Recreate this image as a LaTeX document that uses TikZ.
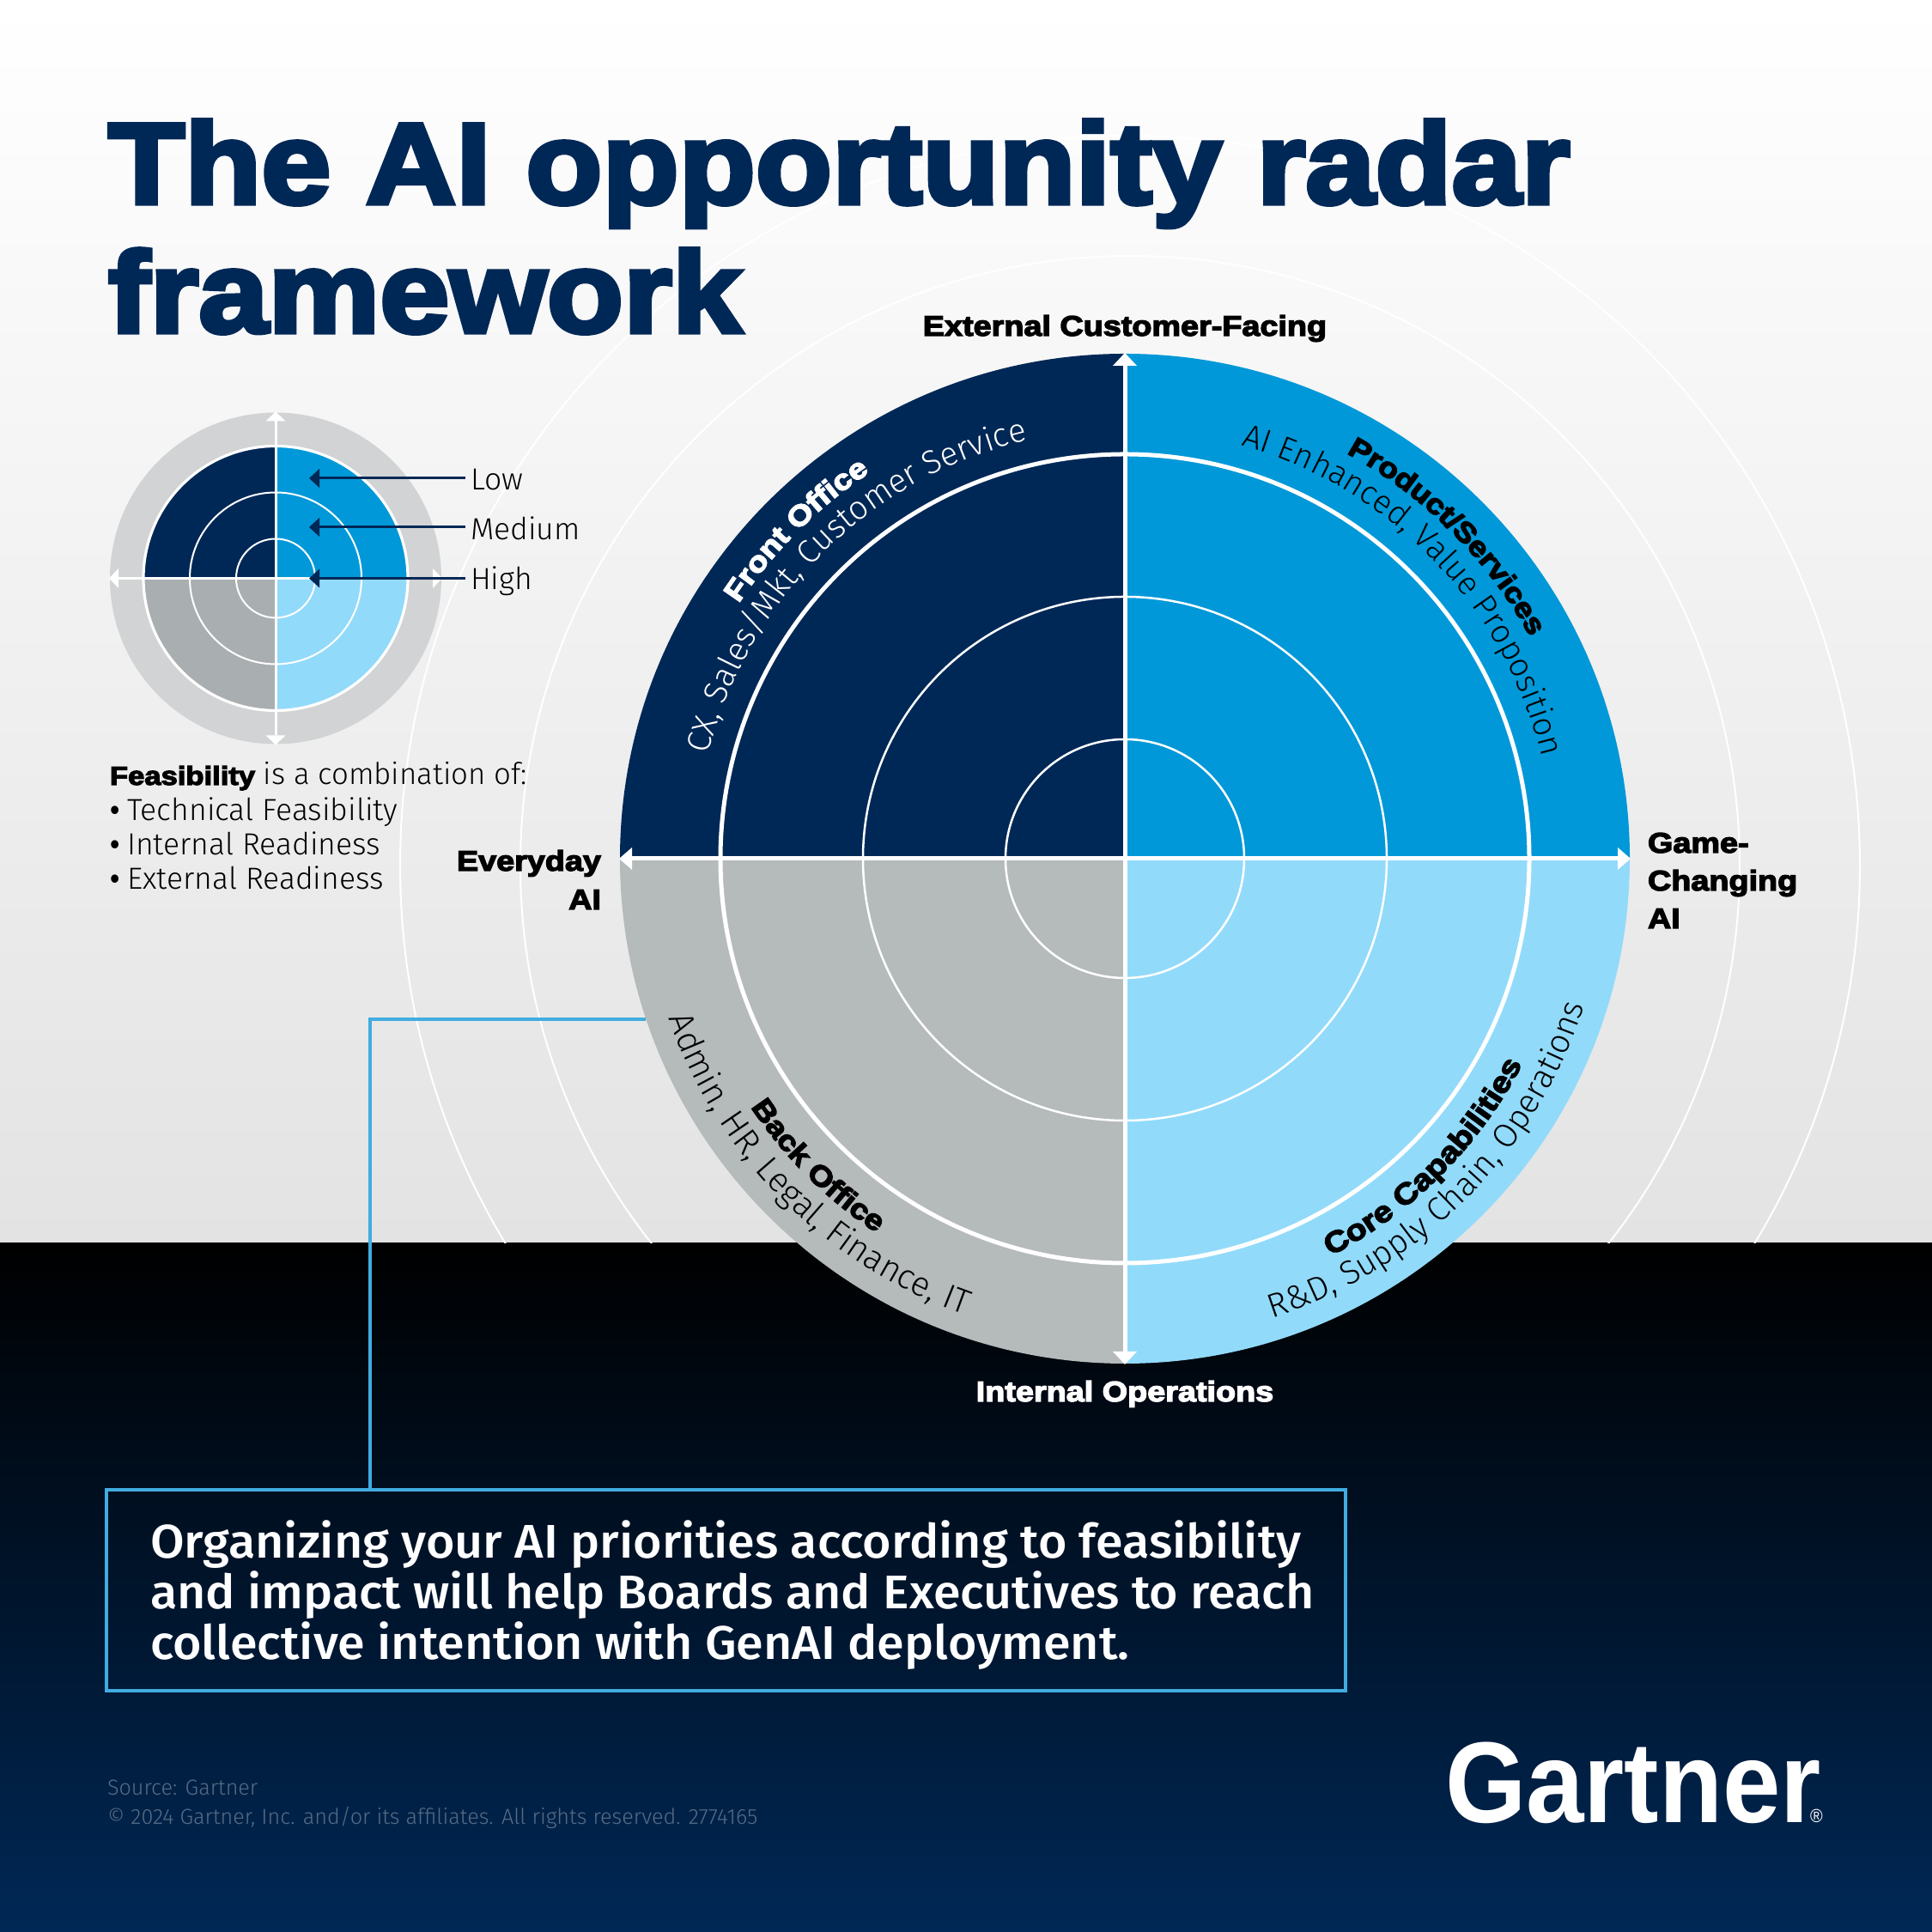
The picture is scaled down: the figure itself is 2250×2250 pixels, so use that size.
\documentclass[tikz,border=0pt]{standalone}
\usepackage{fontspec}
\usetikzlibrary{decorations.text,calc}
\setmainfont{Fira Sans}
\newfontfamily\lightf{Fira Sans Light}
\newfontfamily\titlef[FakeBold=4,FakeStretch=1.089,UprightFont={* Bold}]{Liberation Sans}
\newfontfamily\blackf[FakeBold=4,FakeStretch=1.145,UprightFont={* Bold}]{Liberation Sans}
\newfontfamily\medf[FakeStretch=1.044]{Fira Sans Medium}
\newfontfamily\logof[FakeStretch=0.905]{Liberation Sans}
\definecolor{navy}{HTML}{002856}
\definecolor{blueq}{HTML}{0098D8}
\definecolor{skyq}{HTML}{92DAFA}
\definecolor{grayq}{HTML}{B5BABB}
\definecolor{grayd}{HTML}{A9AEB0}
\definecolor{ringg}{HTML}{D1D3D4}
\definecolor{callb}{HTML}{41ACE0}
\definecolor{srcg}{HTML}{566B85}
\newcommand{\fsz}[1]{\fontsize{#1pt}{#1pt}\selectfont}
\newcommand{\curvetext}[6]{% radius, start, end, font, colour, text
  \path[decorate,decoration={text along path,text align=center,text color=#5,
    text={|#4|#6}}]
    (#2:#1pt) arc[start angle=#2,end angle=#3,radius=#1pt];}
\newcommand{\quadrants}[5]{% radius, TL, TR, BR, BL
  \fill[#2] (0,0) -- (180:#1pt) arc[start angle=180,end angle=90,radius=#1pt] -- cycle;
  \fill[#3] (0,0) -- (90:#1pt) arc[start angle=90,end angle=0,radius=#1pt] -- cycle;
  \fill[#4] (0,0) -- (0:#1pt) arc[start angle=0,end angle=-90,radius=#1pt] -- cycle;
  \fill[#5] (0,0) -- (-90:#1pt) arc[start angle=-90,end angle=-180,radius=#1pt] -- cycle;}
\tikzset{
  x=1pt,y=1pt,
  txt/.style={inner sep=0pt,outer sep=0pt,anchor=base west},
  txtr/.style={inner sep=0pt,outer sep=0pt,anchor=base east},
  txtc/.style={inner sep=0pt,outer sep=0pt,anchor=base},
  titletxt/.style={txt,text=navy,font=\titlef\fsz{134}},
  axisblack/.style={font=\blackf\fsz{33},text=black},
  axiswhite/.style={font=\blackf\fsz{33},text=white},
  legendtxt/.style={txt,font=\lightf\fsz{35.5},text=black},
  calltxt/.style={txt,font=\medf\fsz{55},text=white},
  srctxt/.style={txt,font=\lightf\fsz{25.2},text=srcg},
  ringthin/.style={draw=white,line width=2.5pt},
  ringthick/.style={draw=white,line width=5pt},
  minithin/.style={draw=white,line width=2pt},
  minithick/.style={draw=white,line width=3.2pt},
  legarrow/.style={draw=navy,line width=3pt},
  legtip/.style={fill=navy},
  faint/.style={draw=white,line width=2pt},
  callline/.style={draw=callb,line width=4pt},
}
\begin{document}
\begin{tikzpicture}
\useasboundingbox (0,0) rectangle (2250,2250);
% background
\shade[top color=white,middle color=white!96!black,bottom color=black!11] (0,802) rectangle (2250,2250);
\shade[top color=black!100!blue,middle color=navy!68!black,bottom color=navy] (0,0) rectangle (2250,802);
% faint rings
\begin{scope}
  \clip (0,802) rectangle (2250,2250);
  \draw[faint] (1316,1242) circle[radius=710pt];
  \draw[faint] (1316,1242) circle[radius=850pt];
\end{scope}
% title
\node[titletxt] (title1) at (126,2013) {The AI opportunity radar};
\node[titletxt] (title2) at (126,1863) {framework};
% main radar
\begin{scope}[shift={(1310,1250)}]
  \quadrants{588}{navy}{blueq}{skyq}{grayq}
  \draw[ringthin] (0,0) circle[radius=139pt];
  \draw[ringthin] (0,0) circle[radius=305pt];
  \draw[ringthick] (0,0) circle[radius=471pt];
  \draw[white,line width=5pt] (-575,0) -- (575,0);
  \draw[white,line width=5pt] (0,-575) -- (0,575);
  \fill[white] (0,589) -- (-14,574) -- (14,574) -- cycle;
  \fill[white] (0,-589) -- (-14,-574) -- (14,-574) -- cycle;
  \fill[white] (-589,0) -- (-574,13) -- (-574,-13) -- cycle;
  \fill[white] (589,0) -- (574,13) -- (574,-13) -- cycle;
  \curvetext{500}{169}{100}{\lightf\fsz{38.5}}{white}{CX, Sales/Mkt, Customer Service}
  \curvetext{539}{160}{110}{\blackf\fsz{33.5}}{white}{Front Office}
  \curvetext{500}{79}{9}{\lightf\fsz{38}}{black}{AI Enhanced, Value Proposition}
  \curvetext{538}{70}{20}{\blackf\fsz{32.8}}{black}{Product/Services}
  \curvetext{563}{190}{260}{\lightf\fsz{40}}{black}{Admin, HR, Legal, Finance, IT}
  \curvetext{523}{200}{250}{\blackf\fsz{33.1}}{black}{Back Office}
  \curvetext{562}{-80}{-10}{\lightf\fsz{39}}{black}{R{\&}D, Supply Chain, Operations}
  \curvetext{521}{-70}{-20}{\blackf\fsz{34.3}}{black}{Core Capabilities}
\end{scope}
% axis labels
\node[txtc,axisblack] (ext) at (1310,1859) {External Customer-Facing};
\node[txtc,axiswhite] (int) at (1310,618) {Internal Operations};
\node[txtr,axisblack] (ev1) at (700,1236) {Everyday};
\node[txtr,axisblack] (ev2) at (700,1191) {AI};
\node[txt,axisblack] (gc1) at (1919,1257) {Game-};
\node[txt,axisblack] (gc2) at (1919,1213) {Changing};
\node[txt,axisblack] (gc3) at (1919,1169) {AI};
% mini radar
\begin{scope}[shift={(321,1576.5)}]
  \fill[ringg] (0,0) circle[radius=193pt];
  \quadrants{154}{navy}{blueq}{skyq}{grayd}
  \draw[minithin] (0,0) circle[radius=46pt];
  \draw[minithin] (0,0) circle[radius=100pt];
  \draw[minithick] (0,0) circle[radius=154pt];
  \draw[white,line width=3pt] (-183,0) -- (183,0);
  \draw[white,line width=3pt] (0,-183) -- (0,183);
  \fill[white] (0,194) -- (-11.5,183) -- (11.5,183) -- cycle;
  \fill[white] (0,-194) -- (-11.5,-183) -- (11.5,-183) -- cycle;
  \fill[white] (-194,0) -- (-183,11.5) -- (-183,-11.5) -- cycle;
  \fill[white] (194,0) -- (183,11.5) -- (183,-11.5) -- cycle;
\end{scope}
% legend
\node[legendtxt] (low) at (548,1679) {Low};
\node[legendtxt] (med) at (548,1621) {Medium};
\node[legendtxt] (high) at (548,1563) {High};
\coordinate (lowt) at (372,1693);
\coordinate (medt) at (372,1636);
\coordinate (hight) at (372,1576.5);
\coordinate (lowe) at (541.5,1693);
\coordinate (mede) at (541.5,1636);
\coordinate (highe) at (541.5,1576.5);
\draw[legarrow] (lowe) -- (lowt);
\draw[legarrow] (mede) -- (medt);
\draw[legarrow] (highe) -- (hight);
\fill[legtip] (360,1693) -- (372,1704) -- (372,1682) -- cycle;
\fill[legtip] (360,1636) -- (372,1647) -- (372,1625) -- cycle;
\fill[legtip] (360,1576.5) -- (372,1587.5) -- (372,1565.5) -- cycle;
\node[legendtxt,font=\lightf\fsz{34.8}] (fe0) at (128,1336) {{\blackf\fsz{30.2}Feasibility} is a combination of:};
\node[legendtxt] (fe1) at (128,1294.5) {{\logof •}\kern9pt Technical Feasibility};
\node[legendtxt] (fe2) at (128,1254.5) {{\logof •}\kern9pt Internal Readiness};
\node[legendtxt] (fe3) at (128,1214.5) {{\logof •}\kern9pt External Readiness};
% callout
\node[callline,draw,inner sep=0pt,minimum width=1443pt,minimum height=234pt,anchor=south west] (callout) at (122,279) {};
\coordinate (cstart) at (752,1063);
\coordinate (cjoin) at (430.5,515);
\draw[callline] (cstart) -| (cjoin);
\node[calltxt] (c1) at (175,435) {Organizing your AI priorities according to feasibility};
\node[calltxt] (c2) at (175,376) {and impact will help Boards and Executives to reach};
\node[calltxt] (c3) at (175,317) {collective intention with GenAI deployment.};
% footer
\node[srctxt] (s1) at (125,159) {Source: Gartner};
\node[srctxt] (s2) at (125,125) {© 2024 Gartner, Inc. and/or its affiliates. All rights reserved. 2774165};
\node[txt,text=white,font=\logof\bfseries\fsz{134}] (logo) at (1683,127) {Gartner};
\node[txt,text=white,font=\logof\fsz{22}] (reg) at (2108,127) {®};
\end{tikzpicture}
\end{document}
